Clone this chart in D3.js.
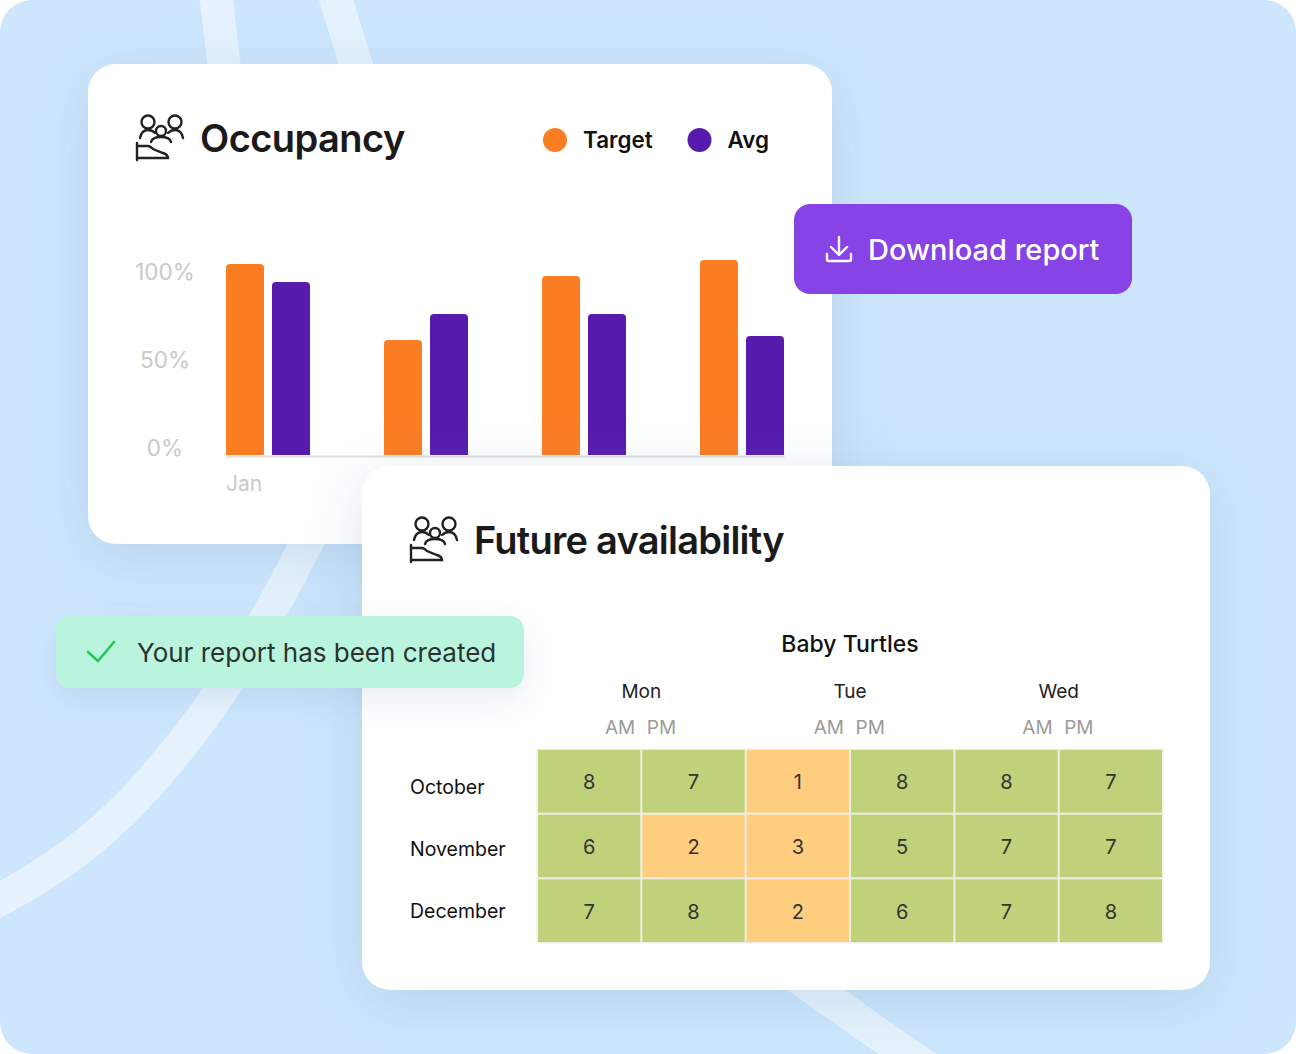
<!DOCTYPE html>
<html>
<head>
<meta charset="utf-8">
<script src="https://cdn.jsdelivr.net/npm/d3@7"></script>
<style>
  html, body { margin: 0; padding: 0; background: #fff; }
  svg { display: block; }
  text { font-family: Inter, "Noto Sans", sans-serif; }
</style>
</head>
<body>
<svg id="chart" width="1296" height="1054"></svg>
<script>
// bar chart data
const months = ["Jan", "Feb", "Mar", "Apr"];
const seriesNames = ["Target", "Avg"];
const targetValues = [108.5, 65.3, 101.7, 110.8];
const avgValues = [98.3, 80.1, 80.1, 67.6];
const percentTicks = [0, 50, 100];

// availability grid data
const days = ["Mon", "Tue", "Wed"];
const halves = ["AM", "PM"];
const gridMonths = ["October", "November", "December"];
const octoberValues = [8, 7, 1, 8, 8, 7];
const novemberValues = [6, 2, 3, 5, 7, 7];
const decemberValues = [7, 8, 2, 6, 7, 8];

// background swooshes
const swooshA = [[214, -20], [224, 64], [240, 200]];
const swooshB = [[330, -20], [356, 64], [400, 200]];
const swooshC = [[-30, 916], [100, 832], [223, 688], [306, 544], [340, 470]];
const swooshD = [[760, 950], [816, 990], [907, 1054], [960, 1090]];

const colors = { Target: "#fb7d22", Avg: "#561bad" };

const svg = d3.select("#chart");
const defs = svg.append("defs");

function shadow(id, blur, opacity) {
  defs.append("filter").attr("id", id)
    .attr("filterUnits", "userSpaceOnUse")
    .attr("x", 0).attr("y", 0).attr("width", 1296).attr("height", 1054)
    .append("feDropShadow")
    .attr("dx", 0).attr("dy", 12).attr("stdDeviation", blur)
    .attr("flood-color", "#5b7ea8").attr("flood-opacity", opacity);
}
shadow("cardShadow", 30, 0.2);
shadow("toastShadow", 16, 0.14);

// page background
svg.append("rect").attr("width", 1296).attr("height", 1054).attr("rx", 32).attr("fill", "#cde6fd");
defs.append("clipPath").attr("id", "bgClip").append("rect")
  .attr("width", 1296).attr("height", 1054).attr("rx", 32);

const natural = d3.line().curve(d3.curveNatural);
svg.append("g").attr("clip-path", "url(#bgClip)")
  .selectAll("path").data([swooshA, swooshB, swooshC, swooshD]).join("path")
  .attr("d", d => natural(d))
  .attr("fill", "none").attr("stroke", "#e6f3fe").attr("stroke-width", 33);

function card(x, y, w, h) {
  svg.append("rect").attr("x", x).attr("y", y).attr("width", w).attr("height", h)
    .attr("rx", 28).attr("fill", "#fff").attr("filter", "url(#cardShadow)");
}

function peopleIcon(x, y) {
  const g = svg.append("g").attr("transform", `translate(${x},${y})`)
    .attr("fill", "none").attr("stroke", "#222").attr("stroke-width", 2.4).attr("stroke-linecap", "round");
  g.append("circle").attr("cx", 12).attr("cy", 9).attr("r", 6.5);
  g.append("circle").attr("cx", 39).attr("cy", 9).attr("r", 6.5);
  g.append("circle").attr("cx", 25).attr("cy", 18).attr("r", 5);
  g.append("path").attr("d", "M4,25C5,20 8,17 12,17C15,17 17,18 19,20");
  g.append("path").attr("d", "M47,25C46,20 43,17 39,17C36,17 34,18 32,20");
  g.append("path").attr("d", "M15,29C16,25 20,24 25,24C30,24 34,25 35,29");
  g.append("path").attr("d", "M1,30V47M1,33H12C14,33 15,34 17,36L27,40C30,41 32,42 32,45H1");
}

// occupancy card
card(88, 64, 744, 480);
peopleIcon(136, 113);
svg.append("text").attr("x", 200).attr("y", 152).attr("font-size", 38).attr("font-weight", 600)
  .attr("fill", "#1a1a1a").attr("letter-spacing", -0.55).text("Occupancy");

const legendX = d3.scaleOrdinal().domain(seriesNames).range([555, 699.5]);
const legend = svg.append("g").selectAll("g").data(seriesNames).join("g")
  .attr("transform", d => `translate(${legendX(d)},140)`);
legend.append("circle").attr("r", 12).attr("fill", d => colors[d]);
legend.append("text").attr("x", 28).attr("y", 8).attr("font-size", 22.4).attr("font-weight", 600)
  .attr("fill", "#111").text(d => d);

const x0 = d3.scaleBand().domain(months).range([226, 784]).paddingInner(74 / 158);
const x1 = d3.scaleBand().domain(seriesNames).range([0, x0.bandwidth()]).paddingInner(8 / 46);
const y = d3.scaleLinear().domain([0, 100]).range([455, 279]);

const barRows = months.map((m, i) => [
  { month: m, name: "Target", value: targetValues[i] },
  { month: m, name: "Avg", value: avgValues[i] }
]).flat();

function topRounded(x, top, w, bottom, r) {
  return `M${x},${bottom}V${top + r}Q${x},${top} ${x + r},${top}H${x + w - r}Q${x + w},${top} ${x + w},${top + r}V${bottom}Z`;
}

svg.append("g").selectAll("path").data(barRows).join("path")
  .attr("d", d => topRounded(x0(d.month) + x1(d.name), y(d.value), x1.bandwidth(), y(0), 4))
  .attr("fill", d => colors[d.name]);

const xAxis = svg.append("g").attr("transform", `translate(0,${y(0) + 1})`)
  .call(d3.axisBottom(x0).tickSize(0).tickPadding(20));
xAxis.select(".domain").attr("stroke", "#dedede").attr("stroke-width", 2);
xAxis.selectAll("text").attr("text-anchor", "start").attr("x", -x0.bandwidth() / 2)
  .attr("font-size", 21).attr("fill", "#c9c9c9").attr("font-family", "Inter");

const yAxis = svg.append("g").attr("transform", "translate(194,1)")
  .call(d3.axisLeft(y).tickValues(percentTicks).tickFormat(d => d + "%").tickSize(0));
yAxis.select(".domain").remove();
yAxis.selectAll("text").attr("text-anchor", "middle").attr("x", -29).attr("dy", "-0.02em")
  .attr("font-size", 22.5).attr("fill", "#c9c9c9").attr("font-family", "Inter");

// download button
svg.append("rect").attr("x", 794).attr("y", 204).attr("width", 338).attr("height", 90)
  .attr("rx", 16).attr("fill", "#8743e6");
svg.append("path").attr("d", "M839,237V254M831,247L839,255L847,247M827,254V259Q827,261 829,261H849Q851,261 851,259V254")
  .attr("fill", "none").attr("stroke", "#fff").attr("stroke-width", 2.4)
  .attr("stroke-linecap", "round").attr("stroke-linejoin", "round");
svg.append("text").attr("x", 868).attr("y", 260).attr("font-size", 29).attr("font-weight", 500)
  .attr("fill", "#fff").text("Download report");

// availability card
card(362, 466, 848, 524);
peopleIcon(410, 515);
svg.append("text").attr("x", 474).attr("y", 554).attr("font-size", 38).attr("font-weight", 600)
  .attr("fill", "#1a1a1a").attr("letter-spacing", -0.75).text("Future availability");

svg.append("text").attr("x", 850).attr("y", 652).attr("text-anchor", "middle")
  .attr("font-size", 23).attr("font-weight", 500).attr("fill", "#111").text("Baby Turtles");

const slots = days.map(d => halves.map(h => d + h)).flat();
const cellX = d3.scaleBand().domain(slots).range([538, 1162]).paddingInner(2 / 104.33);
const cellY = d3.scaleBand().domain(gridMonths).range([750, 942]).paddingInner(2 / 64.67);
const labelY = d3.scalePoint().domain(gridMonths).range([794, 918]);
const gridRows = [octoberValues, novemberValues, decemberValues];
const cells = gridMonths.map((m, r) => slots.map((s, c) => ({ month: m, slot: s, value: gridRows[r][c] }))).flat();

svg.append("rect").attr("x", 536.5).attr("y", 748.5).attr("width", 627).attr("height", 195)
  .attr("fill", "#eef0e8");
svg.append("g").selectAll("rect").data(cells).join("rect")
  .attr("x", d => cellX(d.slot)).attr("y", d => cellY(d.month))
  .attr("width", cellX.bandwidth()).attr("height", cellY.bandwidth())
  .attr("fill", d => d.value <= 3 ? "#fecd7e" : "#bfd27a");
svg.append("g").selectAll("text").data(cells).join("text")
  .attr("x", d => cellX(d.slot) + cellX.bandwidth() / 2)
  .attr("y", d => cellY(d.month) + cellY.bandwidth() / 2 + 8)
  .attr("text-anchor", "middle").attr("font-size", 20).attr("fill", "#333").text(d => d.value);

svg.append("g").selectAll("text").data(gridMonths).join("text")
  .attr("x", 410).attr("y", d => labelY(d))
  .attr("font-size", 19.5).attr("fill", "#111").text(d => d);

svg.append("g").selectAll("text").data(days).join("text")
  .attr("x", d => cellX(d + "AM") + cellX.step() - 1)
  .attr("y", 698).attr("text-anchor", "middle").attr("font-size", 19).attr("fill", "#222").text(d => d);

const halfLabels = slots.map(s => ({ slot: s, label: s.slice(3) }));
svg.append("g").selectAll("text").data(halfLabels).join("text")
  .attr("x", d => cellX(d.slot) + cellX.bandwidth() / 2 + (d.label === "AM" ? 31 : -32))
  .attr("y", 734).attr("text-anchor", "middle").attr("font-size", 19).attr("fill", "#9b9b9b").text(d => d.label);

// toast
svg.append("rect").attr("x", 56).attr("y", 616).attr("width", 468).attr("height", 72)
  .attr("rx", 14).attr("fill", "#bbf4de").attr("filter", "url(#toastShadow)");
svg.append("path").attr("d", "M88,652L98,661L114,642").attr("fill", "none")
  .attr("stroke", "#1fc95a").attr("stroke-width", 2.6).attr("stroke-linecap", "round").attr("stroke-linejoin", "round");
svg.append("text").attr("x", 137).attr("y", 662).attr("font-size", 26).attr("fill", "#2a3330")
  .text("Your report has been created");
</script>
</body>
</html>
